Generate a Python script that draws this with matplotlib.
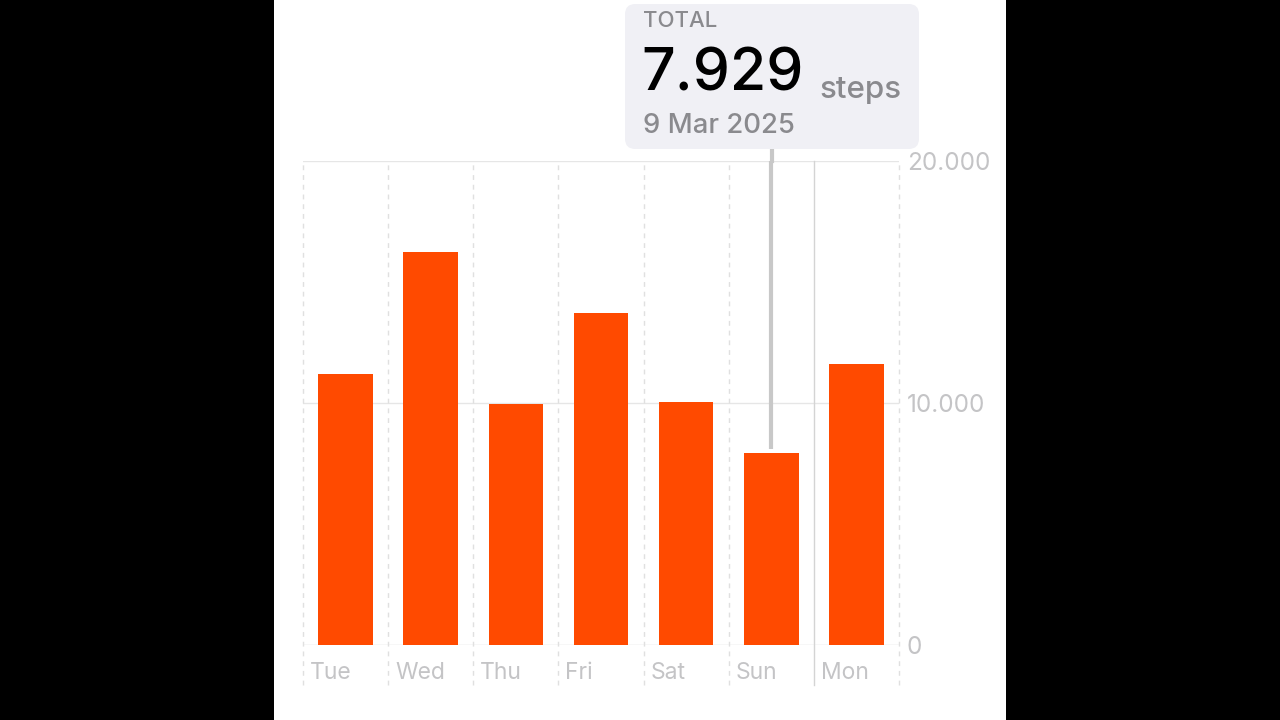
import matplotlib.pyplot as plt
from matplotlib.patches import Rectangle, FancyBboxPatch

days = ['Tue', 'Wed', 'Thu', 'Fri', 'Sat', 'Sun', 'Mon']
steps = [11200, 16230, 9960, 13720, 10040, 7929, 11620]
y_ticks = [0, 10000, 20000]
y_labels = ['0', '10.000', '20.000']
sel_day = 'Sun'
sel_label = '9 Mar 2025'

plt.rcParams['font.family'] = ['Inter', 'DejaVu Sans']

fig = plt.figure(figsize=(12.8, 7.2), dpi=100, facecolor='black')
W, H = 1280, 720

# white phone screen panel
fig.patches.append(Rectangle((274 / W, 0), 732 / W, 1, transform=fig.transFigure,
                             facecolor='white', edgecolor='none', zorder=-1))

ax = fig.add_axes([303 / W, 75 / H, 596 / W, 484 / H])
ax.set_facecolor('none')
x = list(range(len(days)))
ax.bar(x, steps, width=0.64, color='#ff4a00', zorder=3)
ax.set_xlim(-0.5, len(days) - 0.5)
ax.set_ylim(0, 20000)
for s in ax.spines.values():
    s.set_visible(False)
ax.set_xticks([])
ax.set_yticks([])

# horizontal grid
for v in y_ticks:
    ax.axhline(v, color='#d9d9d9' if v == 0 else '#e6e6e6', lw=1, zorder=1)
    ax.text(len(days) - 0.5 + 0.09, v, y_labels[v // 10000], color='#c4c4c6',
            fontsize=17.5, va='center_baseline', ha='left', clip_on=False)

# vertical day separators, run down through the label row
sel = days.index(sel_day)
for i in range(len(days) + 1):
    xb = i - 0.5
    solid = (i == len(days) - 1)
    ax.plot([xb, xb], [-1650, 20000], color='#d4d4d4' if solid else '#e0e0e0',
            lw=1, ls='-' if solid else (0, (3.5, 3.5)), clip_on=False, zorder=1)

for i, d in enumerate(days):
    ax.text(i - 0.42, -1050, d, color='#c4c4c6', fontsize=16.5,
            va='center_baseline', ha='left')

# tooltip connector
ax.plot([sel, sel], [steps[sel] + 150, 20000], color='#c8c8c8', lw=3,
        clip_on=False, zorder=2, solid_capstyle='butt')
fig.add_artist(plt.Line2D([772 / W, 772 / W], [(H - 161) / H, (H - 149) / H],
                          color='#c8c8c8', lw=3, transform=fig.transFigure))

# tooltip box
box = FancyBboxPatch((625 / W, (H - 149) / H), 294 / W, 145 / H,
                     boxstyle='round,pad=0.0,rounding_size=0.008',
                     mutation_aspect=W / H, transform=fig.transFigure,
                     facecolor='#f0f0f5', edgecolor='none', zorder=4)
fig.patches.append(box)
fig.text(643 / W, (H - 21) / H, 'TOTAL', color='#8a8a8e', fontsize=16,
         fontweight='medium', va='center', ha='left', zorder=5)
fig.text(641 / W, (H - 75) / H, f'{steps[sel]:,}'.replace(',', '.'), color='black',
         fontsize=42.5, fontweight='medium', va='center', ha='left', zorder=5)
fig.text(819 / W, (H - 87) / H, 'steps', color='#8a8a8e', fontsize=22.5,
         fontweight='medium', va='center_baseline', ha='left', zorder=5)
fig.text(643 / W, (H - 126) / H, sel_label, color='#8a8a8e', fontsize=19.8,
         fontweight='medium', va='center', ha='left', zorder=5)

fig.savefig('out.png', dpi=100, facecolor='black')
